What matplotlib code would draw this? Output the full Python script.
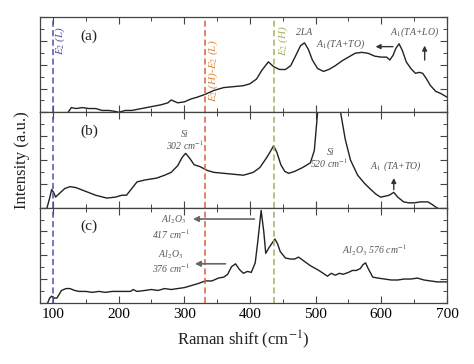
import matplotlib
matplotlib.use("Agg")
import matplotlib.pyplot as plt
from matplotlib.ticker import MultipleLocator, NullFormatter

plt.rcParams["font.family"] = "Liberation Serif"
plt.rcParams["mathtext.fontset"] = "stix"

# Spectrum (a)
a_x = [123, 128, 135, 145, 155, 165, 175, 185, 195, 200, 210, 220, 235, 250, 265,
       275, 280, 290, 300, 310, 320, 332, 345, 360, 375, 390, 400, 410, 418, 428,
       436, 445, 454, 462, 470, 477, 483, 489, 495, 503, 512, 520, 530, 540, 550,
       560, 570, 580, 590, 600, 608, 613, 618, 622, 627, 632, 638, 645, 652, 658,
       663, 668, 675, 683, 690, 700]
a_y = [0.0, 0.05, 0.04, 0.05, 0.04, 0.04, 0.02, 0.02, 0.01, 0.0, 0.02, 0.02, 0.04, 0.06, 0.08,
       0.1, 0.13, 0.1, 0.11, 0.14, 0.16, 0.19, 0.23, 0.26, 0.27, 0.28, 0.3, 0.35, 0.44, 0.53,
       0.48, 0.45, 0.45, 0.49, 0.6, 0.7, 0.73, 0.66, 0.55, 0.46, 0.43, 0.45, 0.49, 0.54, 0.58,
       0.62, 0.63, 0.62, 0.59, 0.58, 0.58, 0.55, 0.6, 0.67, 0.72, 0.65, 0.53, 0.46, 0.41, 0.42,
       0.41, 0.36, 0.28, 0.22, 0.2, 0.16]

# Spectrum (b)
b_x = [91, 95, 98, 101, 104, 110, 118, 126, 135, 150, 165, 182, 195, 205, 212,
       220, 228, 240, 258, 270, 280, 290, 297, 302, 308, 315, 324, 335, 345, 360,
       375, 390, 405, 415, 425, 432, 436, 441, 447, 453, 459, 468, 480, 492, 498,
       503, 510, 520, 530, 538, 545, 553, 564, 575, 584, 592, 599, 606, 612, 619,
       625, 634, 642, 650, 660, 671, 678, 684, 690]
b_y = [0.0, 0.1, 0.19, 0.16, 0.11, 0.15, 0.2, 0.22, 0.21, 0.17, 0.13, 0.1, 0.11, 0.13, 0.13,
       0.2, 0.27, 0.29, 0.31, 0.34, 0.37, 0.44, 0.53, 0.57, 0.52, 0.45, 0.43, 0.39, 0.37, 0.36,
       0.35, 0.34, 0.37, 0.42, 0.52, 0.6, 0.65, 0.58, 0.45, 0.38, 0.36, 0.38, 0.42, 0.47, 0.6,
       1.0, 1.8, 3.0, 1.8, 1.0, 0.72, 0.5, 0.34, 0.25, 0.19, 0.14, 0.11, 0.12, 0.13, 0.16,
       0.11, 0.06, 0.05, 0.05, 0.06, 0.06, 0.03, 0.0, -0.02]

# Spectrum (c)
c_x = [92, 95, 98, 102, 106, 113, 120, 126, 133, 140, 150, 160, 170, 180, 190,
       200, 210, 218, 222, 228, 240, 250, 260, 270, 280, 290, 300, 310, 320, 332,
       342, 352, 360, 366, 372, 378, 384, 390, 396, 402, 408, 412, 417, 421, 424,
       429, 433, 438, 442, 446, 454, 462, 468, 474, 480, 492, 505, 518, 524, 530,
       536, 542, 550, 556, 562, 568, 572, 576, 580, 587, 595, 605, 615, 625, 635,
       645, 655, 665, 675, 685, 700]
c_y = [0.0, 0.05, 0.07, 0.05, 0.05, 0.13, 0.15, 0.15, 0.13, 0.12, 0.12, 0.11, 0.12, 0.11, 0.12,
       0.12, 0.12, 0.12, 0.14, 0.12, 0.13, 0.14, 0.13, 0.15, 0.14, 0.15, 0.16, 0.18, 0.2, 0.23,
       0.23, 0.26, 0.27, 0.3, 0.38, 0.41, 0.35, 0.31, 0.33, 0.32, 0.42, 0.65, 0.97, 0.75, 0.52,
       0.58, 0.62, 0.67, 0.62, 0.54, 0.47, 0.46, 0.46, 0.48, 0.45, 0.39, 0.34, 0.28, 0.31, 0.29,
       0.31, 0.3, 0.32, 0.34, 0.34, 0.36, 0.4, 0.42, 0.36, 0.27, 0.26, 0.25, 0.24, 0.24, 0.25,
       0.25, 0.26, 0.24, 0.23, 0.22, 0.22]

# Mode positions (cm-1) for dashed guide lines
mode_pos = [100, 332, 436]
mode_colors = ["#4a55a5", "#d9603f", "#a9ae5c"]

panel_labels = ["(a)", "(b)", "(c)"]
spectra = [(a_x, a_y), (b_x, b_y), (c_x, c_y)]

fig, axes = plt.subplots(3, 1, figsize=(4.74, 3.64), dpi=100, sharex=True)
fig.subplots_adjust(left=0.084, right=0.943, top=0.953, bottom=0.168, hspace=0)

txt_col = "#555555"
arr_col = "#333333"

for ax, (xs, ys), lab in zip(axes, spectra, panel_labels):
    ax.plot(xs, ys, color="#222222", lw=1.0)
    for xp, c in zip(mode_pos, mode_colors):
        ax.axvline(xp, color=c, lw=1.1, dashes=(4, 2.2))
    ax.set_xlim(80, 700)
    ax.set_ylim(0, 1)
    ax.xaxis.set_major_locator(MultipleLocator(100))
    ax.xaxis.set_minor_locator(MultipleLocator(50))
    ax.yaxis.set_major_locator(MultipleLocator(0.25))
    ax.yaxis.set_minor_locator(MultipleLocator(0.125))
    ax.yaxis.set_major_formatter(NullFormatter())
    ax.tick_params(which="both", direction="in", top=True, right=True, color="#444444")
    ax.tick_params(which="major", length=5, width=0.8, labelsize=11)
    ax.tick_params(which="minor", length=3, width=0.7)
    for sp in ax.spines.values():
        sp.set_color("#444444")
        sp.set_linewidth(0.9)
    ax.text(155, 0.8, lab, fontsize=11, ha="center", va="center", color="#222222")

ax_a, ax_b, ax_c = axes
small = dict(fontsize=7, style="italic", color=txt_col, ha="center", va="center")
arrow = dict(arrowstyle="-|>", color=arr_col, lw=1.0, mutation_scale=7)

# panel (a)
ax_a.text(111, 0.76, r"$E_2$ (L)", rotation=90, fontsize=8, style="italic",
          color=mode_colors[0], ha="center", va="center")
ax_a.text(344, 0.44, r"$E_2$ (H)-$E_2$ (L)", rotation=90, fontsize=8, style="italic",
          color="#d9873f", ha="center", va="center")
ax_a.text(450, 0.76, r"$E_2$ (H)", rotation=90, fontsize=8, style="italic",
          color=mode_colors[2], ha="center", va="center")
ax_a.text(483, 0.84, "2LA", **small)
ax_a.text(538, 0.71, r"A$_1$(TA+TO)", **small)
ax_a.annotate("", xy=(587, 0.69), xytext=(622, 0.69), arrowprops=arrow)
ax_a.text(651, 0.84, r"A$_1$(TA+LO)", **small)
ax_a.annotate("", xy=(666, 0.73), xytext=(666, 0.52), arrowprops=arrow)

# panel (b)
ax_b.text(301, 0.77, "Si", **small)
ax_b.text(301, 0.65, r"302 cm$^{-1}$", **small)
ax_b.text(523, 0.58, "Si", **small)
ax_b.text(521, 0.47, r"520 cm$^{-1}$", **small)
ax_b.text(622, 0.43, r"A$_1$ (TA+TO)", **small)
ax_b.annotate("", xy=(619, 0.34), xytext=(619, 0.16), arrowprops=arrow)

# panel (c)
ax_c.text(284, 0.87, r"Al$_2$O$_3$", **small)
ax_c.text(280, 0.72, r"417 cm$^{-1}$", **small)
ax_c.annotate("", xy=(309, 0.88), xytext=(411, 0.88),
              arrowprops=dict(arrowstyle="-|>", color="#666666", lw=1.2, mutation_scale=8))
ax_c.text(279, 0.51, r"Al$_2$O$_3$", **small)
ax_c.text(279, 0.36, r"376 cm$^{-1}$", **small)
ax_c.annotate("", xy=(312, 0.41), xytext=(367, 0.41),
              arrowprops=dict(arrowstyle="-|>", color="#666666", lw=1.2, mutation_scale=8))
ax_c.text(589, 0.55, r"Al$_2$O$_3$ 576 cm$^{-1}$", **small)

ax_c.set_xlabel(r"Raman shift (cm$^{-1}$)", fontsize=12, color="#222222", labelpad=6)
fig.text(0.047, 0.56, "Intensity (a.u.)", rotation=90, fontsize=12,
         ha="center", va="center", color="#222222")

fig.savefig("out.png", dpi=100)
